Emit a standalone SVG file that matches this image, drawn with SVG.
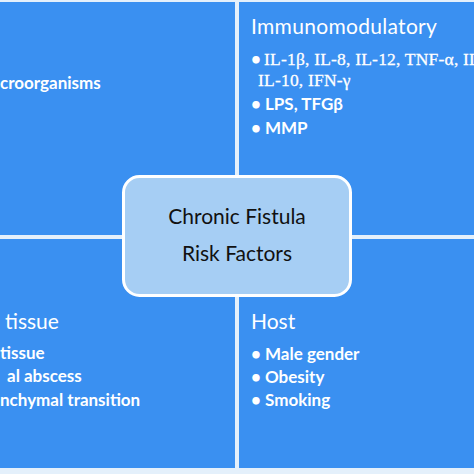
<svg xmlns="http://www.w3.org/2000/svg" width="474" height="474" viewBox="0 0 474 474">
<style>
.q{fill:#3a90f1}
.h{font-family:"Lato","Noto Sans",sans-serif;font-size:21px;fill:#ffffff}
.b{font-family:"Lato","Noto Sans",sans-serif;font-size:17px;fill:#ffffff;font-weight:bold}
.s{font-family:"Liberation Serif",serif;font-size:17.5px;fill:#ffffff;letter-spacing:0.2px;stroke:#ffffff;stroke-width:0.3}
.c{font-family:"Lato","Noto Sans",sans-serif;font-size:21px;fill:#111111;text-anchor:middle}
</style>
<rect width="474" height="474" fill="#e4f0fb"/>
<g id="microorganisms">
<rect class="q" x="-10" y="2" width="245" height="233"/>
<text class="b" x="0" y="89">croorganisms</text>
</g>
<g id="immunomodulatory">
<rect class="q" x="239" y="2" width="245" height="233"/>
<text class="h" x="251" y="34" letter-spacing="0.3">Immunomodulatory</text>
<text class="b" x="251" y="65">•</text>
<text class="s" x="264" y="65">IL-1β, IL-8, IL-12, TNF-α, IL</text>
<text class="s" x="258" y="86">IL-10, IFN-γ</text>
<text class="b" x="251" y="110">• LPS, TFGβ</text>
<text class="b" x="251" y="134">• MMP</text>
</g>
<g id="tissue">
<rect class="q" x="-10" y="239" width="245" height="229"/>
<text class="h" x="5" y="329">tissue</text>
<text class="b" x="0" y="359">tissue</text>
<text class="b" x="7" y="382">al abscess</text>
<text class="b" x="0" y="406">nchymal transition</text>
</g>
<g id="host">
<rect class="q" x="239" y="239" width="245" height="229"/>
<text class="h" x="251" y="329">Host</text>
<text class="b" x="251" y="360">• Male gender</text>
<text class="b" x="251" y="383">• Obesity</text>
<text class="b" x="251" y="406">• Smoking</text>
</g>
<g id="center">
<rect x="123.5" y="176.5" width="227" height="119" rx="16" fill="#a6cef4" stroke="#ffffff" stroke-width="3"/>
<text class="c" x="237" y="224">Chronic Fistula</text>
<text class="c" x="237" y="261">Risk Factors</text>
</g>
<g id="connectors"></g>
</svg>
